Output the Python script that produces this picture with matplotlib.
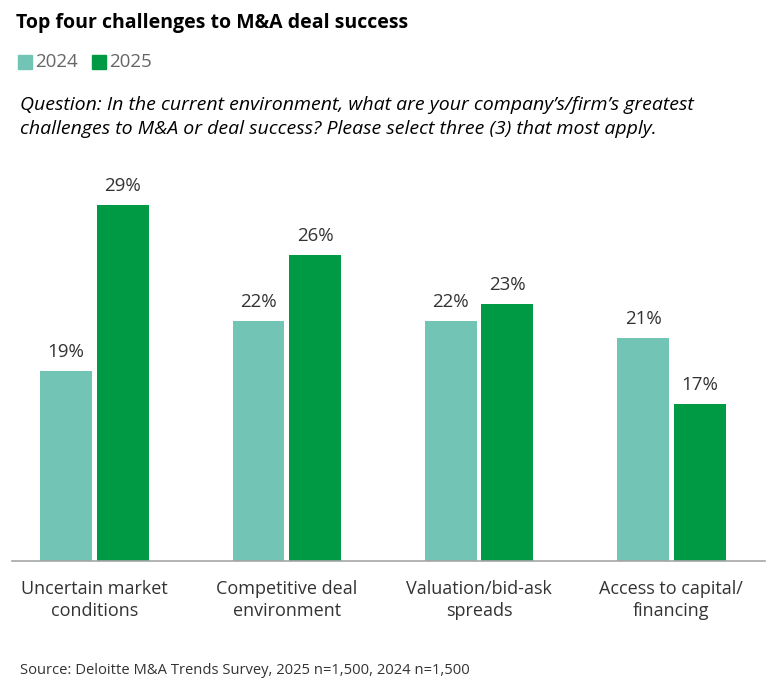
import matplotlib
matplotlib.use('Agg')
import matplotlib.pyplot as plt
from matplotlib.patches import Rectangle
import numpy as np

categories = ['Uncertain market\nconditions', 'Competitive deal\nenvironment',
              'Valuation/bid-ask\nspreads', 'Access to capital/\nfinancing']
vals_2024 = [19, 22, 22, 21]
vals_2025 = [29, 26, 23, 17]
years = ['2024', '2025']
colors = ['#72C4B5', '#009A44']

plt.rcParams['font.family'] = ['Open Sans', 'DejaVu Sans']

fig = plt.figure(figsize=(7.72, 6.98), dpi=100)
ax = fig.add_axes([12/772, 1 - 561/698, (765-12)/772, (561-170)/698])

x = np.arange(len(categories))
w = 0.27
off = 0.147
b1 = ax.bar(x - off, vals_2024, w, color=colors[0])
b2 = ax.bar(x + off, vals_2025, w, color=colors[1])

for bars, vals in [(b1, vals_2024), (b2, vals_2025)]:
    for b, v in zip(bars, vals):
        ax.annotate(f'{v}%', (b.get_x() + b.get_width()/2, v), xytext=(0, 10),
                    textcoords='offset pixels', ha='center', va='bottom',
                    fontsize=13.5, color='#333333')

ax.set_xlim(-0.429, 3.487)
ax.set_ylim(7.55, 31.1)
ax.set_yticks([])
ax.set_xticks(x)
ax.set_xticklabels(categories, fontsize=13, color='#333333', linespacing=1.25)
ax.tick_params(axis='x', length=0, pad=14)
for s in ['top', 'right', 'left']:
    ax.spines[s].set_visible(False)
ax.spines['bottom'].set_color('#A6A6A6')
ax.spines['bottom'].set_linewidth(1.2)

fig.text(16/772, 1 - 23/698, 'Top four challenges to M&A deal success',
         fontsize=14, fontweight='bold', color='black', va='center')

# legend
for i, (yr, c) in enumerate(zip(years, colors)):
    x0 = [18, 92][i]
    fig.patches.append(Rectangle((x0/772, 1 - 69/698), 14/772, 14/698,
                                 transform=fig.transFigure, color=c))
    fig.text((x0 + 17)/772, 1 - 62/698, yr, fontsize=13.5, color='#666666', va='center')

fig.text(20/772, 1 - 117/698,
         'Question: In the current environment, what are your company\u2019s/firm\u2019s greatest\n'
         'challenges to M&A or deal success? Please select three (3) that most apply.',
         fontsize=14, style='italic', color='black', va='center', linespacing=1.4)

fig.text(20/772, 1 - 671/698, 'Source: Deloitte M&A Trends Survey, 2025 n=1,500, 2024 n=1,500',
         fontsize=10.6, color='#333333', va='center')

fig.savefig('out.png', dpi=100)
